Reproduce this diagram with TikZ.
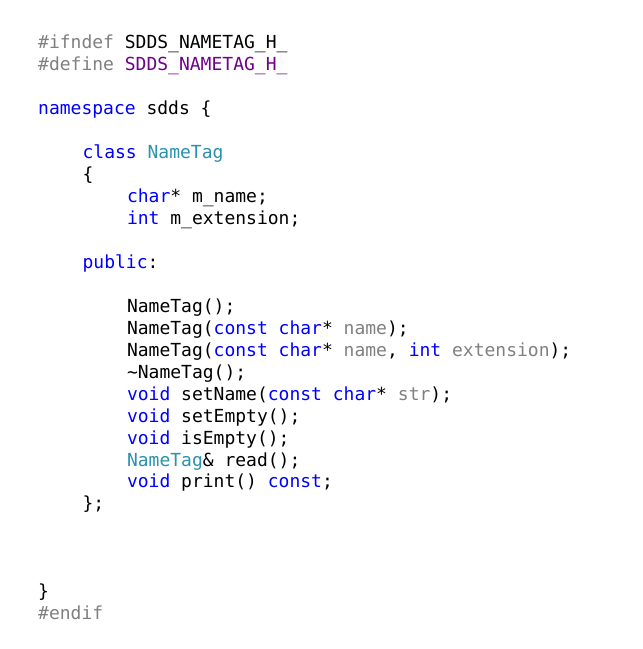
\documentclass[tikz,border=0pt]{standalone}
\usepackage{fontspec}
\setmonofont{DejaVu Sans Mono}
\definecolor{kw}{RGB}{0,0,255}
\definecolor{ty}{RGB}{43,145,175}
\definecolor{pp}{RGB}{128,128,128}
\definecolor{mc}{RGB}{111,0,138}
\newcommand{\K}[1]{\textcolor{kw}{#1}}
\newcommand{\T}[1]{\textcolor{ty}{#1}}
\newcommand{\G}[1]{\textcolor{pp}{#1}}
\newcommand{\M}[1]{\textcolor{mc}{#1}}
\begin{document}
\begin{tikzpicture}[x=1pt,y=1pt,
  codeline/.style={anchor=base west,inner sep=0pt,font=\ttfamily\fontsize{18}{20}\selectfont}]
\useasboundingbox[fill=white] (0,0) rectangle (643,649);
\def\ln#1#2#3{\node[codeline] (l#1) at (#2,{649-49-21.95*#1}) {#3};}
\ln{0}{38}{\G{\#ifndef} SDDS\_NAMETAG\_H\_}
\ln{1}{38}{\G{\#define} \M{SDDS\_NAMETAG\_H\_}}
\ln{3}{38}{\K{namespace} sdds \{}
\ln{5}{82.4}{\K{class} \T{NameTag}}
\ln{6}{82.4}{\{}
\ln{7}{126.8}{\K{char}* m\_name;}
\ln{8}{126.8}{\K{int} m\_extension;}
\ln{10}{82.4}{\K{public}:}
\ln{12}{126.8}{NameTag();}
\ln{13}{126.8}{NameTag(\K{const} \K{char}* \G{name});}
\ln{14}{126.8}{NameTag(\K{const} \K{char}* \G{name}, \K{int} \G{extension});}
\ln{15}{126.8}{\char`\~NameTag();}
\ln{16}{126.8}{\K{void} setName(\K{const} \K{char}* \G{str});}
\ln{17}{126.8}{\K{void} setEmpty();}
\ln{18}{126.8}{\K{void} isEmpty();}
\ln{19}{126.8}{\T{NameTag}\& read();}
\ln{20}{126.8}{\K{void} print() \K{const};}
\ln{21}{82.4}{\};}
\ln{25}{38}{\}}
\ln{26}{38}{\G{\#endif}}
\end{tikzpicture}
\end{document}
